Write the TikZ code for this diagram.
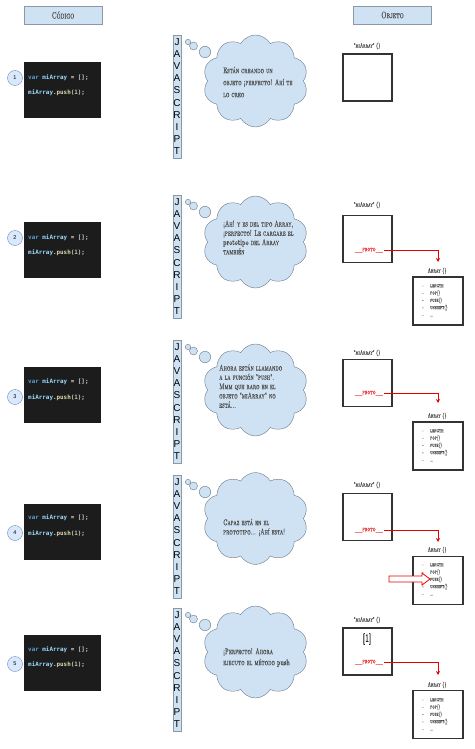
\documentclass[tikz,border=0pt]{standalone}
\usepackage{fontspec}
\usepackage{xcolor}
\usetikzlibrary{positioning,arrows.meta,shapes.symbols}
\newfontfamily\codefont{DejaVu Sans Mono}
\newfontfamily\barfont{Liberation Sans}
\newfontfamily\sayfont{lmromancaps10-regular}[Extension=.otf,BoldFont=lmroman10-bold,BoldFeatures={FakeBold=0.5},FakeStretch=0.65,FakeBold=0.15]
\definecolor{headblue}{RGB}{207,226,243}
\definecolor{headline}{RGB}{140,152,165}
\definecolor{cloudline}{RGB}{105,120,138}
\definecolor{numfill}{RGB}{218,232,252}
\definecolor{numline}{RGB}{108,142,191}
\definecolor{codebg}{RGB}{28,28,28}
\definecolor{kwblue}{RGB}{86,156,214}
\definecolor{varblue}{RGB}{156,220,254}
\definecolor{fnyellow}{RGB}{220,220,170}
\definecolor{numgreen}{RGB}{181,206,168}
\definecolor{plaintext}{RGB}{212,212,212}
\definecolor{textgray}{RGB}{78,78,78}
\definecolor{objline}{RGB}{51,51,51}
\definecolor{protored}{RGB}{224,40,40}
\definecolor{arrowred}{RGB}{230,0,0}

\begin{document}
\begin{tikzpicture}[
    x=1pt,y=-1pt,
    head/.style={draw=headline,fill=headblue,minimum width=78,minimum height=18,inner sep=0,font=\fontsize{9.5}{9.5}\selectfont\sayfont,text=textgray},
    numcirc/.style={circle,draw=numline,fill=numfill,minimum size=15,inner sep=0,font=\fontsize{5.5}{6}\selectfont\barfont},
    codebox/.style={fill=codebg,minimum width=77,minimum height=56,inner sep=0},
    code/.style={anchor=west,inner sep=0,font=\fontsize{5.9}{6}\selectfont\codefont\bfseries,text=plaintext},
    jsbar/.style={draw=headline,fill=headblue,minimum width=8,minimum height=123,inner sep=0,align=center,font=\fontsize{10}{12.2}\selectfont\barfont},
    bubble/.style={circle,draw=cloudline,fill=headblue,inner sep=0},
    thought/.style={cloud,cloud puffs=10,cloud puff arc=120,draw=cloudline,fill=headblue,minimum width=105,minimum height=92,inner sep=0},
    say/.style={anchor=west,align=left,inner sep=0,text=textgray,font=\fontsize{8.3}{9.3}\selectfont\sayfont},
    obj/.style={draw=objline,line width=1.1pt,minimum width=49,minimum height=47,inner sep=0},
    proto obj/.style={draw=objline,line width=1.1pt,minimum width=50,minimum height=48,inner sep=0},
    tag/.style={inner sep=0,text=textgray,font=\fontsize{6.3}{6.3}\selectfont\sayfont},
    proto/.style={inner sep=1,text=protored,font=\fontsize{6.8}{6.8}\selectfont\sayfont},
    link/.style={-{Stealth[length=4pt,width=4pt]},draw=arrowred,line width=0.8pt},
    items/.style={anchor=north west,align=left,inner sep=0,text=textgray,font=\fontsize{5.8}{7.3}\selectfont\sayfont}
]
    \useasboundingbox (0,0) rectangle (474,749);

    % Column headers
    \node[head] (hcode) at (63,15) {Código};
    \node[head] (hobj) at (392.5,15) {Objeto};

    % ---- Step 1
    \node[codebox] (cb1) at (62.5,90) {};
    \node[numcirc] (n1) at (15,78) {1};
    \node[code] (c1a) at (28,78) {\textcolor{kwblue}{var} \textcolor{varblue}{miArray} = [];};
    \node[code] (c1b) at (28,93) {\textcolor{varblue}{miArray}.\textcolor{fnyellow}{push}(\textcolor{numgreen}{1});};
    \node[jsbar] (js1) at (177,96.5) {J\\A\\V\\A\\S\\C\\R\\I\\P\\T};
    \node[bubble,minimum size=5.4] (b1a) at (188,42) {};
    \node[bubble,minimum size=8] (b1b) at (193.5,46) {};
    \node[bubble,minimum size=11.4] (b1c) at (205,52) {};
    \node[thought] (th1) at (255.5,81) {};
    \node[say,font=\fontsize{8.3}{12}\selectfont\sayfont] (t1) at (223,82) {Están creando un\\objeto ¡perfecto! Ahí te\\lo creo};
    \node[tag] (tag1) at (367,46) {"miArray" \{\}};
    \node[obj] (o1) at (367.5,77.5) {};

    % ---- Step 2
    \node[codebox] (cb2) at (62.5,250) {};
    \node[numcirc] (n2) at (15,238) {2};
    \node[code] (c2a) at (28,238) {\textcolor{kwblue}{var} \textcolor{varblue}{miArray} = [];};
    \node[code] (c2b) at (28,253) {\textcolor{varblue}{miArray}.\textcolor{fnyellow}{push}(\textcolor{numgreen}{1});};
    \node[jsbar] (js2) at (177,256.5) {J\\A\\V\\A\\S\\C\\R\\I\\P\\T};
    \node[bubble,minimum size=5.4] (b2a) at (188,202) {};
    \node[bubble,minimum size=8] (b2b) at (193.5,206) {};
    \node[bubble,minimum size=11.4] (b2c) at (205,212) {};
    \node[thought] (th2) at (255.5,242) {};
    \node[say] (t2) at (223,237.5) {¡Ah! y es del tipo Array,\\¡perfecto! Le cargare el\\\textbf{prototipo} del Array\\también};
    \node[tag] (tag2) at (367,205) {"miArray" \{\}};
    \node[obj] (o2) at (367.5,239) {};
    \node[proto] (pr2) at (369,250) {\_\_proto\_\_};
    \coordinate (e2) at (438,262);
    \node[tag] (atag2) at (437,271) {Array \{\}};
    \node[proto obj] (ao2) at (438,301) {};
    \node[items] (it2) at (422,284) {\makebox[8pt][l]{-}length\\\makebox[8pt][l]{-}pop()\\\makebox[8pt][l]{-}push()\\\makebox[8pt][l]{-}unshift()\\\makebox[8pt][l]{-}\ldots};
    \draw[link] (pr2.east) -| (e2);

    % ---- Step 3
    \node[codebox] (cb3) at (62.5,395) {};
    \node[numcirc] (n3) at (15,397) {3};
    \node[code] (c3a) at (28,382) {\textcolor{kwblue}{var} \textcolor{varblue}{miArray} = [];};
    \node[code] (c3b) at (28,398) {\textcolor{varblue}{miArray}.\textcolor{fnyellow}{push}(\textcolor{numgreen}{1});};
    \node[jsbar] (js3) at (177,401.5) {J\\A\\V\\A\\S\\C\\R\\I\\P\\T};
    \node[bubble,minimum size=5.4] (b3a) at (188,347) {};
    \node[bubble,minimum size=8] (b3b) at (193.5,351) {};
    \node[bubble,minimum size=11.4] (b3c) at (205,357) {};
    \node[thought] (th3) at (255.5,390) {};
    \node[say] (t3) at (219,386) {Ahora están llamando\\a la función "push".\\Mmm que raro en el\\objeto "miArray" no\\está...};
    \node[tag] (tag3) at (367,353) {"miArray" \{\}};
    \node[obj] (o3) at (367.5,383) {};
    \node[proto] (pr3) at (369,393) {\_\_proto\_\_};
    \coordinate (e3) at (438,403);
    \node[tag] (atag3) at (437,416) {Array \{\}};
    \node[proto obj] (ao3) at (438,446) {};
    \node[items] (it3) at (422,429) {\makebox[8pt][l]{-}length\\\makebox[8pt][l]{-}pop()\\\makebox[8pt][l]{-}push()\\\makebox[8pt][l]{-}unshift()\\\makebox[8pt][l]{-}\ldots};
    \draw[link] (pr3.east) -| (e3);

    % ---- Step 4
    \node[codebox] (cb4) at (62.5,532) {};
    \node[numcirc] (n4) at (15,533) {4};
    \node[code] (c4a) at (28,518) {\textcolor{kwblue}{var} \textcolor{varblue}{miArray} = [];};
    \node[code] (c4b) at (28,534) {\textcolor{varblue}{miArray}.\textcolor{fnyellow}{push}(\textcolor{numgreen}{1});};
    \node[jsbar] (js4) at (177,536.5) {J\\A\\V\\A\\S\\C\\R\\I\\P\\T};
    \node[bubble,minimum size=5.4] (b4a) at (188,482) {};
    \node[bubble,minimum size=8] (b4b) at (193.5,486) {};
    \node[bubble,minimum size=11.4] (b4c) at (205,492) {};
    \node[thought] (th4) at (255.5,518.5) {};
    \node[say] (t4) at (223,527.5) {Capaz está en el\\prototipo... ¡Ahí esta!};
    \node[tag] (tag4) at (367,485) {"miArray" \{\}};
    \node[obj] (o4) at (367.5,517) {};
    \node[proto] (pr4) at (369,530) {\_\_proto\_\_};
    \coordinate (e4) at (438,542);
    \node[tag] (atag4) at (437,550) {Array \{\}};
    \node[proto obj] (ao4) at (438,580.5) {};
    \node[items] (it4) at (422,563) {\makebox[8pt][l]{-}length\\\makebox[8pt][l]{-}pop()\\\makebox[8pt][l]{-}push()\\\makebox[8pt][l]{-}unshift()\\\makebox[8pt][l]{-}\ldots};
    \draw[link] (pr4.east) -| (e4);
    % hollow pointer to push()
    \draw[arrowred,fill=white,line width=0.8pt] (389,576) -- (422,576) -- (422,573) -- (430,579) -- (422,585) -- (422,582) -- (389,582) -- cycle;

    % ---- Step 5
    \node[codebox] (cb5) at (62.5,662.5) {};
    \node[numcirc] (n5) at (15,664) {5};
    \node[code] (c5a) at (28,650) {\textcolor{kwblue}{var} \textcolor{varblue}{miArray} = [];};
    \node[code] (c5b) at (28,665) {\textcolor{varblue}{miArray}.\textcolor{fnyellow}{push}(\textcolor{numgreen}{1});};
    \node[jsbar] (js5) at (177,669.5) {J\\A\\V\\A\\S\\C\\R\\I\\P\\T};
    \node[bubble,minimum size=5.4] (b5a) at (188,615) {};
    \node[bubble,minimum size=8] (b5b) at (193.5,619) {};
    \node[bubble,minimum size=11.4] (b5c) at (205,625) {};
    \node[thought] (th5) at (255.5,652) {};
    \node[say,font=\fontsize{8.3}{11}\selectfont\sayfont] (t5) at (223,657.5) {¡Perfecto! Ahora\\ejecuto el método \textbf{push}};
    \node[tag] (tag5) at (367,620) {"miArray" \{\}};
    \node[obj] (o5) at (367.5,651.5) {};
    \node[font=\fontsize{11}{11}\selectfont\sayfont,inner sep=0] (val5) at (367,639) {[1]};
    \node[proto] (pr5) at (369,662) {\_\_proto\_\_};
    \coordinate (e5) at (438,675);
    \node[tag] (atag5) at (437,685) {Array \{\}};
    \node[proto obj] (ao5) at (438,714.5) {};
    \node[items] (it5) at (422,698) {\makebox[8pt][l]{-}length\\\makebox[8pt][l]{-}pop()\\\makebox[8pt][l]{-}push()\\\makebox[8pt][l]{-}unshift()\\\makebox[8pt][l]{-}\ldots};
    \draw[link] (pr5.east) -| (e5);
\end{tikzpicture}
\end{document}
